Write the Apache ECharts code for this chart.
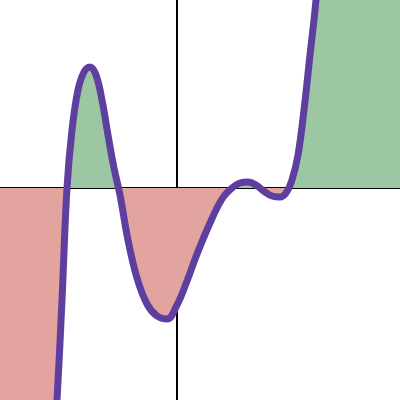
<!DOCTYPE html><html><head><meta charset="utf-8"><script src="https://cdn.jsdelivr.net/npm/echarts@6/dist/echarts.min.js"></script></head><body style="margin:0"><div id="c" style="width:400px;height:400px"></div><script>
// curve samples (x, y) with axes crossing at 0
const xs=[-180,-150,-132,-120,-115,-110,-105,-99,-93,-87,-81,-75,-69,-63,-57,-49,-40,-30,-20,-10,0,10,20,33,45,55,63,71,79,88,95,103,109,115,121,127,133,139,145,160,226];
const ys=[-2000,-900,-412,-212,-112,0,58,98,116,121,113,88,53,20,-7,-52,-90,-116,-128,-131,-117,-93,-66,-35,-11,0,5,6,3,-4,-8,-9,-5,8,33,78,133,188,268,600,3000];
const pts=xs.map((x,i)=>[x,ys[i]]);
const pos=pts.map(p=>[p[0],Math.max(p[1],0)]);
const neg=pts.map(p=>[p[0],Math.min(p[1],0)]);
const ax={type:'value',axisLabel:{show:false},axisTick:{show:false},splitLine:{show:false},axisLine:{onZero:true,lineStyle:{color:'#000',width:2}}};
const c=echarts.init(document.getElementById('c'));
c.setOption({animation:false,grid:{left:0,right:0,top:0,bottom:0},
xAxis:Object.assign({min:-177,max:223},ax),yAxis:Object.assign({min:-212,max:188},ax),
series:[
{type:'line',data:pos,smooth:0.4,symbol:'none',lineStyle:{width:0},areaStyle:{color:'#9dc6a2',opacity:1,origin:0},z:1},
{type:'line',data:neg,smooth:0.4,symbol:'none',lineStyle:{width:0},areaStyle:{color:'#e3a39f',opacity:1,origin:0},z:1},
{type:'line',data:pts,smooth:0.4,symbol:'none',lineStyle:{width:7,color:'#5e3fa0'},z:3}
]});
</script></body></html>
